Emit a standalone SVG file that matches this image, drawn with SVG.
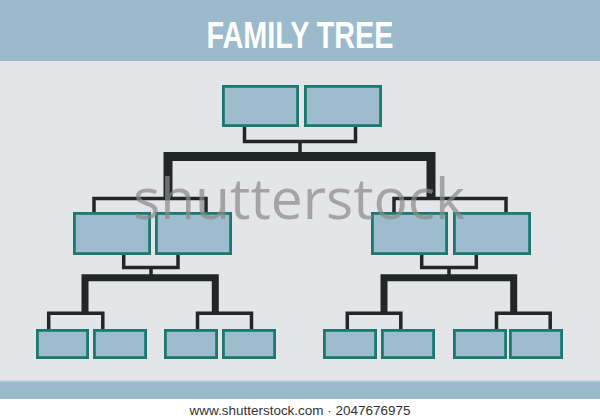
<svg xmlns="http://www.w3.org/2000/svg" width="600" height="420" viewBox="0 0 600 420">
<style>
.box{fill:#9dbccd;stroke:#1b7a6d;stroke-width:2.8}
.thin{fill:none;stroke:#212728;stroke-width:3.5;stroke-linejoin:miter}
.thick{fill:none;stroke:#212728;stroke-width:9;stroke-linejoin:miter}
.mid{fill:none;stroke:#212728;stroke-width:7;stroke-linejoin:miter}
.band{fill:#9bbbcd}
</style>
<rect x="0" y="0" width="600" height="420" fill="#ffffff"/>
<rect x="0" y="61" width="600" height="320" fill="#e4e5e9"/>
<rect class="band" x="0" y="0" width="600" height="61"/>
<rect class="band" x="0" y="380" width="600" height="19"/>
<rect x="0" y="380" width="600" height="1.5" fill="#c6d7e1"/>
<text x="300" y="48" text-anchor="middle" font-family="Liberation Sans, Arial, sans-serif" font-weight="bold" font-size="36" fill="#ffffff" textLength="187" lengthAdjust="spacingAndGlyphs">FAMILY TREE</text>

<g id="connectors">
<path class="thin" d="M244.5,127 V141.5 H355.5 V127"/>
<path class="thin" d="M300,141.5 V153"/>
<path class="thick" d="M168,199 V156.5 H431 V199"/>
<path class="thin" d="M94,212 V198.5 H206 V212"/>
<path class="thin" d="M394,212 V198.5 H506 V212"/>
<path class="thin" d="M123.7,255 V267.5 H178 V255"/>
<path class="thin" d="M151,267.5 V278"/>
<path class="thin" d="M421.7,255 V267.5 H476.3 V255"/>
<path class="thin" d="M449,267.5 V278"/>
<path class="mid" d="M85,314 V277.8 H215.3 V314"/>
<path class="mid" d="M384,314 V277.8 H513.7 V314"/>
<path class="thin" d="M48.7,329 V313.3 H102.8 V329"/>
<path class="thin" d="M197.5,329 V313.3 H251.5 V329"/>
<path class="thin" d="M347.3,329 V313.3 H400.8 V329"/>
<path class="thin" d="M496.5,329 V313.3 H550.2 V329"/>
</g>

<g id="n1"><rect class="box" x="223.4" y="86.4" width="74.2" height="39.2"/></g>
<g id="n2"><rect class="box" x="305.4" y="86.4" width="75.2" height="39.2"/></g>
<g id="n3"><rect class="box" x="74.4" y="213.4" width="75.2" height="40.2"/></g>
<g id="n4"><rect class="box" x="156.4" y="213.4" width="74.2" height="40.2"/></g>
<g id="n5"><rect class="box" x="372.4" y="213.4" width="74.2" height="40.2"/></g>
<g id="n6"><rect class="box" x="454.4" y="213.4" width="75.2" height="40.2"/></g>
<g id="n7"><rect class="box" x="37.4" y="330.4" width="50.2" height="27.2"/></g>
<g id="n8"><rect class="box" x="94.4" y="330.4" width="51.2" height="27.2"/></g>
<g id="n9"><rect class="box" x="165.4" y="330.4" width="51.2" height="27.2"/></g>
<g id="n10"><rect class="box" x="223.4" y="330.4" width="51.2" height="27.2"/></g>
<g id="n11"><rect class="box" x="324.4" y="330.4" width="51.2" height="27.2"/></g>
<g id="n12"><rect class="box" x="382.4" y="330.4" width="51.2" height="27.2"/></g>
<g id="n13"><rect class="box" x="454.4" y="330.4" width="51.2" height="27.2"/></g>
<g id="n14"><rect class="box" x="510.4" y="330.4" width="51.2" height="27.2"/></g>

<text x="299" y="219" text-anchor="middle" font-family="Open Sans, Liberation Sans, sans-serif" font-weight="500" font-size="57" fill="#8a8a8a" fill-opacity="0.72" textLength="332" lengthAdjust="spacingAndGlyphs">shutterstock</text>
<text x="300" y="415" text-anchor="middle" font-family="Liberation Sans, Arial, sans-serif" font-size="13" fill="#333333" textLength="221" lengthAdjust="spacingAndGlyphs">www.shutterstock.com · 2047676975</text>
</svg>
